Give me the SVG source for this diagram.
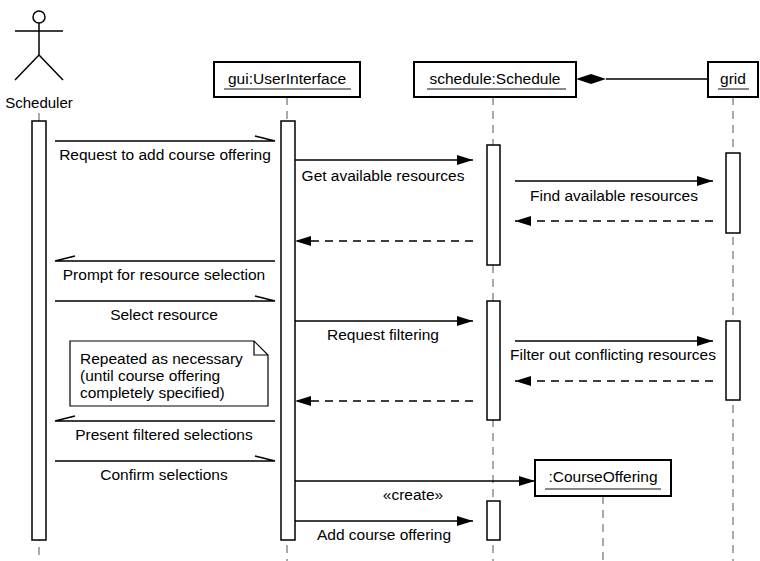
<svg xmlns="http://www.w3.org/2000/svg" width="760" height="561" viewBox="0 0 760 561">
<style>
text{font-family:"Liberation Sans",Arial,sans-serif;font-size:15.5px;fill:#000}
.m{text-anchor:middle}
.box{fill:#fff;stroke:#000;stroke-width:2}
.act{fill:#fff;stroke:#000;stroke-width:1.5}
.life{stroke:#555;stroke-width:1;stroke-dasharray:8,6;fill:none}
.ul{stroke:#888;stroke-width:2}
.msg{stroke:#000;stroke-width:1.5;fill:none}
.ret{stroke:#000;stroke-width:1.5;fill:none;stroke-dasharray:8,6}
</style>
<defs>
<marker id="f" markerWidth="16" markerHeight="10" refX="16" refY="5" orient="auto" markerUnits="userSpaceOnUse"><path d="M0,0L16,5L0,10Z" fill="#000"/></marker>
</defs>
<g id="lifelines">
<line class="life" x1="39" y1="113" x2="39" y2="561"/>
<line class="life" x1="287" y1="97" x2="287" y2="561"/>
<line class="life" x1="493" y1="97" x2="493" y2="561"/>
<line class="life" x1="733" y1="97" x2="733" y2="561"/>
<line class="life" x1="603" y1="496" x2="603" y2="561"/>
</g>
<g id="scheduler">
<circle cx="39" cy="17" r="6" fill="#fff" stroke="#000" stroke-width="1.5"/>
<path d="M15,31H63M39,23V55L15,80M39,55L63,80" stroke="#000" stroke-width="1.5" fill="none"/>
<text class="m" x="39" y="108" style="font-size:15px">Scheduler</text>
<rect class="act" x="32" y="121" width="14" height="419"/>
</g>
<g id="gui">
<rect class="box" x="214" y="62" width="146" height="35"/>
<text class="m" x="287" y="84">gui:UserInterface</text>
<line class="ul" x1="224" y1="89" x2="351" y2="89"/>
<rect class="act" x="281" y="121" width="14" height="419"/>
</g>
<g id="schedule">
<rect class="box" x="414" y="62" width="162" height="35"/>
<text class="m" x="495" y="84">schedule:Schedule</text>
<line class="ul" x1="427" y1="89" x2="566" y2="89"/>
<rect class="act" x="487" y="145" width="13" height="120"/>
<rect class="act" x="487" y="301" width="13" height="119"/>
<rect class="act" x="487" y="501" width="13" height="39"/>
</g>
<g id="grid">
<rect class="box" x="708" y="62" width="50" height="35"/>
<text class="m" x="733" y="84">grid</text>
<line class="ul" x1="718" y1="89" x2="749" y2="89"/>
<rect class="act" x="726" y="153" width="14" height="80"/>
<rect class="act" x="726" y="321" width="14" height="79"/>
</g>
<g id="courseoffering">
<rect class="box" x="535" y="460" width="136" height="36"/>
<text class="m" x="603" y="482">:CourseOffering</text>
<line class="ul" x1="545" y1="489" x2="661" y2="489"/>
</g>
<g id="note">
<path d="M70,341H254L268,355V406H70Z" fill="#fff" stroke="#000" stroke-width="1.2"/>
<path d="M254,341V355H268" fill="none" stroke="#000" stroke-width="1.2"/>
<text x="80" y="364">Repeated as necessary</text>
<text x="80" y="381">(until course offering</text>
<text x="80" y="398">completely specified)</text>
</g>
<g id="connectors">
<path d="M576,79L591,74L606,79L591,84Z" fill="#000"/>
<line class="msg" x1="606" y1="79" x2="708" y2="79"/>
<path class="msg" d="M55,141H275L255,136"/>
<path class="msg" d="M275,261H55L75,256"/>
<path class="msg" d="M55,301H275L255,296"/>
<path class="msg" d="M275,421H55L75,416"/>
<path class="msg" d="M55,461H275L255,456"/>
<line class="msg" x1="295" y1="160" x2="473" y2="160" marker-end="url(#f)"/>
<line class="msg" x1="515" y1="181" x2="713" y2="181" marker-end="url(#f)"/>
<line class="ret" x1="713" y1="221" x2="515" y2="221" marker-end="url(#f)"/>
<line class="ret" x1="473" y1="241" x2="295" y2="241" marker-end="url(#f)"/>
<line class="msg" x1="295" y1="321" x2="473" y2="321" marker-end="url(#f)"/>
<line class="msg" x1="515" y1="341" x2="713" y2="341" marker-end="url(#f)"/>
<line class="ret" x1="713" y1="381" x2="515" y2="381" marker-end="url(#f)"/>
<line class="ret" x1="473" y1="401" x2="295" y2="401" marker-end="url(#f)"/>
<line class="msg" x1="295" y1="481" x2="535" y2="481" marker-end="url(#f)"/>
<line class="msg" x1="295" y1="521" x2="473" y2="521" marker-end="url(#f)"/>
<text class="m" x="165" y="160">Request to add course offering</text>
<text class="m" x="383" y="181">Get available resources</text>
<text class="m" x="614" y="201">Find available resources</text>
<text class="m" x="164" y="280">Prompt for resource selection</text>
<text class="m" x="164" y="320">Select resource</text>
<text class="m" x="383" y="340">Request filtering</text>
<text class="m" x="613" y="360">Filter out conflicting resources</text>
<text class="m" x="164" y="440">Present filtered selections</text>
<text class="m" x="164" y="480">Confirm selections</text>
<text class="m" x="413" y="500">«create»</text>
<text class="m" x="384" y="540">Add course offering</text>
</g>
</svg>
